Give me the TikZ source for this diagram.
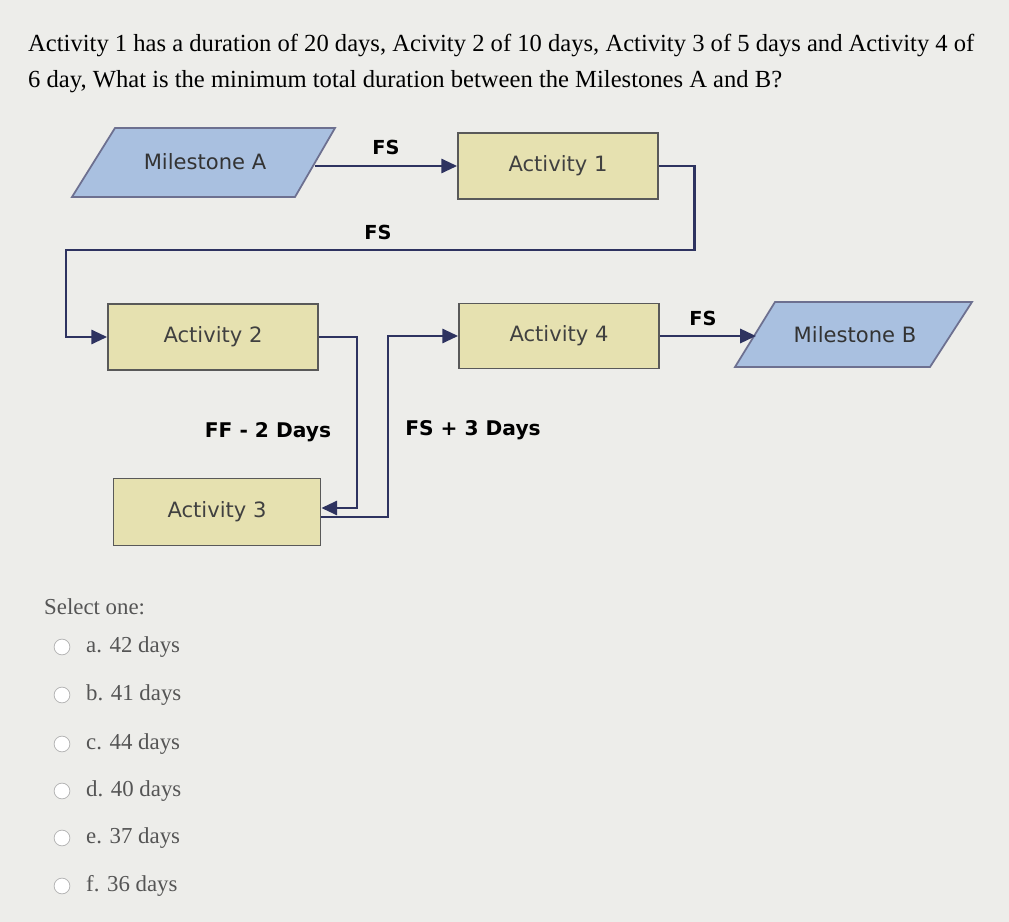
\documentclass[tikz,border=0pt]{standalone}
\usepackage{fontspec}
\setmainfont{Liberation Serif}
\setsansfont{DejaVu Sans}
\usetikzlibrary{arrows.meta}
\definecolor{bg}{HTML}{EDEDEA}
\definecolor{khaki}{HTML}{E6E1B0}
\definecolor{mblue}{HTML}{A9C0E0}
\definecolor{navy}{HTML}{2E3360}
\definecolor{gtxt}{HTML}{555555}
\tikzset{
  box/.style={draw=gray!70!black, line width=1pt, fill=khaki, minimum width=4cm, minimum height=1.32cm, font=\sffamily\fontsize{12}{14}\selectfont, text=black!75},
  para/.style={draw=navy!70, line width=1pt, fill=mblue},
  plabel/.style={font=\sffamily\fontsize{12}{14}\selectfont, text=black!80},
  conn/.style={draw=navy, line width=1.6pt, -{Triangle[length=9pt,width=8pt]}},
  lab/.style={font=\sffamily\bfseries\fontsize{11}{13}\selectfont},
  dlab/.style={font=\sffamily\fontsize{11.5}{13}\selectfont\bfseries},
  qtext/.style={font=\fontsize{14}{16}\selectfont, anchor=west},
  opt/.style={font=\fontsize{13}{15}\selectfont, text=gtxt, anchor=west},
  radio/.style={circle, draw=gray!60, fill=white, minimum size=9pt, inner sep=0pt}
}
\begin{document}
\begin{tikzpicture}[x=0.02cm,y=-0.02cm]
\fill[bg] (0,0) rectangle (1009,922);
\useasboundingbox (0,0) rectangle (1009,922);
\node[qtext] (q1) at (22,45) {Activity 1 has a duration of 20 days, Acivity 2 of 10 days, Activity 3 of 5 days and Activity 4 of};
\node[qtext] (q2) at (22,82) {6 day, What is the minimum total duration between the Milestones A and B?};
% milestones
\draw[para] (115,128) -- (335,128) -- (295,197) -- (72,197) -- cycle;
\node[plabel] (ma) at (205,162) {Milestone A};
\draw[para] (775,302) -- (972,302) -- (930,367) -- (735,367) -- cycle;
\node[plabel] (mb) at (855,335) {Milestone B};
% activities
\node[box] (a1) at (558,166) {Activity 1};
\node[box, minimum width=4.2cm] (a2) at (213,337) {Activity 2};
\node[box, minimum height=1.3cm] (a4) at (559,336) {Activity 4};
\node[box, minimum width=4.14cm, minimum height=1.34cm] (a3) at (217,512) {Activity 3};
\coordinate (maR) at (315,166);
\coordinate (mbL) at (756,336);
% connectors
\draw[conn] (maR) -- (a1.west);
\node[lab] (l1) at (386,147) {FS};
\draw[conn] (a1.east) -- ++(36,0) |- (66,250) |- (a2.west);
\node[lab] (l2) at (378,232) {FS};
\draw[conn] (a2.east) -- (357,337) |- (a3.east |- 0,508);
\node[dlab] (l3) at (268,432) {FF - 2 Days};
\draw[conn] (a3.east |- 0,517) -- (388,517) |- (a4.west);
\node[dlab] (l4) at (473,430) {FS + 3 Days};
\draw[conn] (a4.east) -- (mbL);
\node[lab] (l5) at (703,318) {FS};
% options
\node[opt] (sel) at (38,607) {Select one:};
\foreach \y/\t [count=\i] in {647/a. 42 days,695/b. 41 days,744/c. 44 days,791/d. 40 days,838/e. 37 days,886/f. 36 days}{
  \node[radio] (r\i) at (62,\y) {};
  \node[opt] (o\i) at (80,\y) {\t};
}
\end{tikzpicture}
\end{document}
